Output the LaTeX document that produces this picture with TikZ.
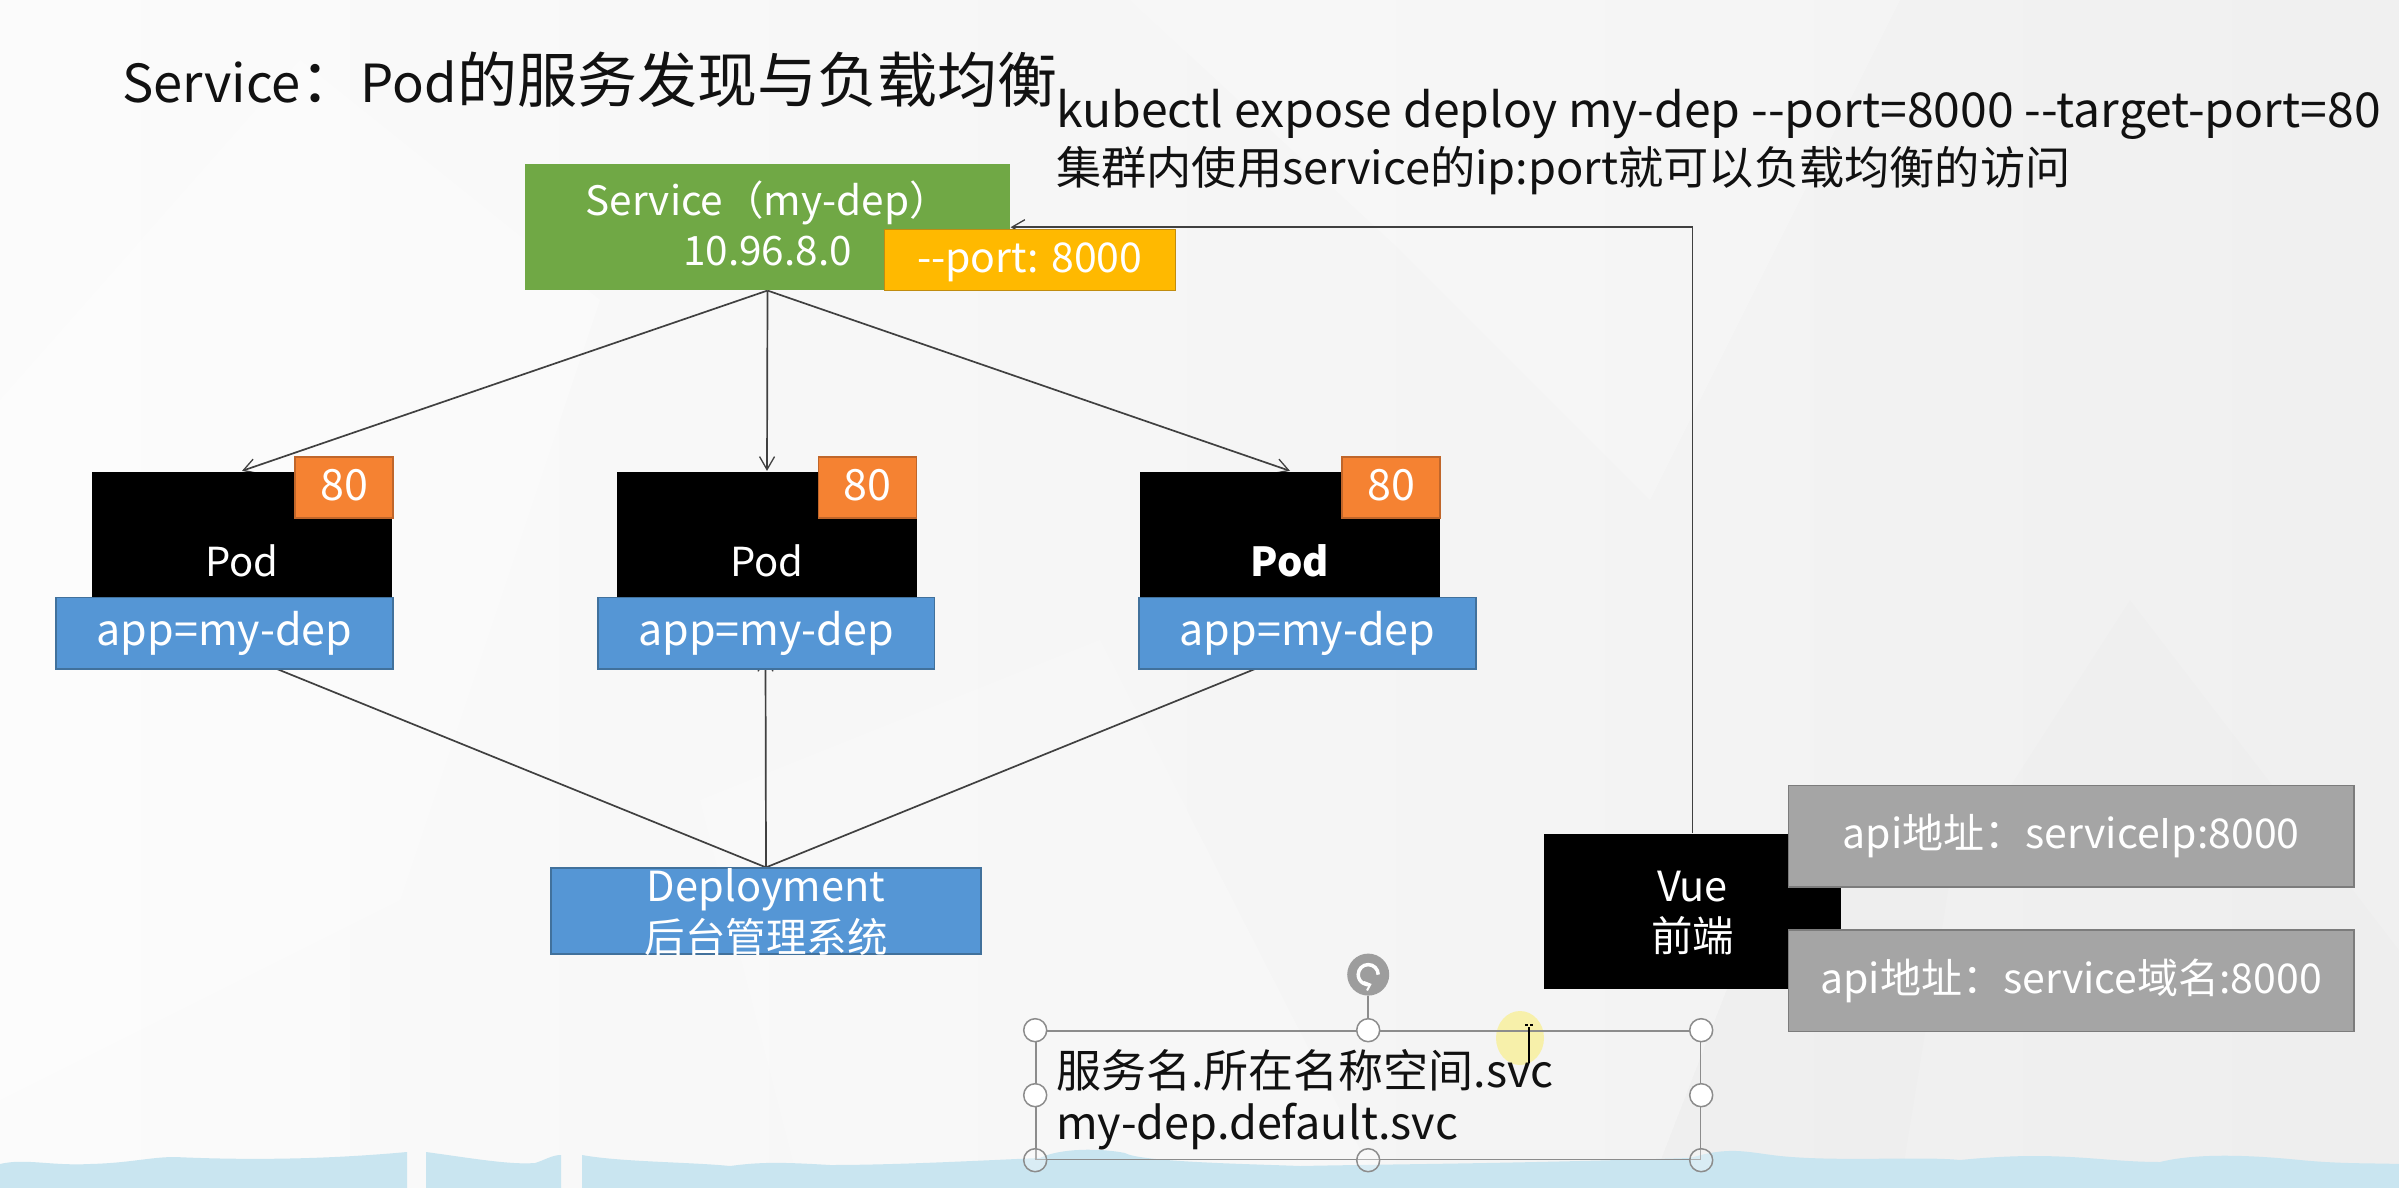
\documentclass[tikz,border=0pt]{standalone}
\usepackage{fontspec}
\setmainfont[Ligatures=TeXOff]{Noto Sans CJK SC}
\usetikzlibrary{arrows.meta,calc}
\pgfdeclarelayer{bg}\pgfdeclarelayer{conn}
\pgfsetlayers{bg,conn,main}
\newcommand{\fs}[1]{\fontsize{#1}{#1}\selectfont}
\newcommand{\st}{\rule[-.2em]{0pt}{1em}}
\definecolor{linec}{HTML}{404040}
\definecolor{bluef}{HTML}{5596D5}
\definecolor{blued}{HTML}{41719C}
\definecolor{hdc}{HTML}{8C8C8C}
\definecolor{ink}{HTML}{111111}
\definecolor{grn}{HTML}{70A845}
\definecolor{org}{HTML}{F58232}
\definecolor{orgd}{HTML}{C0662A}
\definecolor{ylw}{HTML}{FFB900}
\definecolor{ylwd}{HTML}{C08C10}
\definecolor{gry}{HTML}{A5A5A5}
\definecolor{gryd}{HTML}{7C7C7C}
\definecolor{wtr}{HTML}{C9E5F0}
\tikzset{
  x=1pt,y=-1pt,
  box/.style n args={2}{rectangle,minimum width=#1,minimum height=#2,inner sep=0pt,align=center,text=white,line width=1.2pt},
  blue box/.style={fill=bluef,draw=blued},
  conn/.style={draw=linec,line width=1.7pt},
  arr/.style={conn,-{Straight Barb[length=13pt,width=15pt,line width=1.3pt]}},
  hd/.style={circle,minimum size=23pt,inner sep=0pt,fill=white,draw=hdc,line width=1.5pt},
  hdlow/.style={hd,fill=white,fill opacity=.3},
  plain/.style={inner sep=0pt,anchor=base west,text=ink},
  wtext/.style={inner sep=0pt,anchor=base,text=white},
  podtxt/.style={font=\fs{40}},
  lab/.style={font=\fs{43}},
  gtxt/.style={font=\fs{41}}
}
\begin{document}
\begin{tikzpicture}
\useasboundingbox (0,0) rectangle (2399,1188);
\begin{pgfonlayer}{bg}
  \shade[left color=white!98.5!black,right color=white!94!black,shading angle=90] (0,0) rectangle (2399,1188);
  \fill[black,opacity=.006] (1650,1188) -- (1800,800) -- (1950,880) -- (2130,600) -- (2399,950) -- (2399,1188) -- cycle;
  \fill[black,opacity=.006] (1800,800) -- (1950,880) -- (1900,1188) -- (1650,1188) -- cycle;
  \fill[white,opacity=.2] (1130,0) -- (1900,0) -- (1650,500) -- (1400,250) -- cycle;
  \fill[white,opacity=.3] (0,400) -- (300,60) -- (600,300) -- (400,900) -- (0,1100) -- cycle;
  \fill[white,opacity=.2] (700,800) -- (1100,640) -- (1380,1188) -- (800,1188) -- cycle;
  % water
  \fill[wtr] (0,1188) -- (0,1164) .. controls (25,1158) and (50,1166) .. (90,1164) .. controls (130,1163) and (150,1157) .. (175,1157) .. controls (240,1160) and (320,1160) .. (407,1152) -- (407,1188) -- cycle;
  \fill[wtr] (426,1188) -- (426,1152) .. controls (470,1158) and (510,1165) .. (535,1163) .. controls (545,1160) and (552,1155) .. (561,1155) -- (561,1188) -- cycle;
  \fill[wtr] (582,1188) -- (582,1155) .. controls (620,1162) and (690,1162) .. (730,1166) .. controls (760,1162) and (780,1162) .. (830,1165) .. controls (900,1165) and (990,1160) .. (1040,1158) .. controls (1060,1148) and (1100,1148) .. (1125,1153) .. controls (1140,1162) and (1250,1164) .. (1300,1166) .. controls (1400,1164) and (1490,1164) .. (1690,1158) .. controls (1730,1146) and (1745,1152) .. (1780,1156) .. controls (1840,1162) and (1920,1156) .. (1960,1160) .. controls (2060,1150) and (2100,1162) .. (2160,1162) .. controls (2200,1152) and (2260,1156) .. (2300,1160) .. controls (2340,1164) and (2370,1163) .. (2399,1164) -- (2399,1188) -- cycle;
\end{pgfonlayer}

% title and captions
\node[plain] (title) at (122,103) {{\fs{52.5}Service}\fs{60}：{\fs{52.5}Pod}的服务发现与负载均衡};
\node[plain] (cmd) at (1056,128) {\fs{48.1}kubectl expose deploy my-dep --port=8000 --target-port=80};
\node[plain] (note) at (1056,184) {\fs{45.2}集群内使用service的ip:port就可以负载均衡的访问};

% service
\node[box={485pt}{125.5pt},fill=grn,font=\fs{40.5}] (svc) at (767.5,227.2) {\st Service（my-dep）\\[6.5pt]\st 10.96.8.0};
\node[box={291pt}{61pt},fill=ylw,draw=ylwd,font=\fs{41}] (port) at (1029.7,260.3) {\st --port: 8000};

% pods
\node[box={300pt}{126pt},fill=black,podtxt] (pod1) at (242,534.5) {\rule{0pt}{91pt}\rule[-8pt]{0pt}{8pt}Pod};
\node[box={300pt}{126pt},fill=black,podtxt] (pod2) at (767,534.5) {\rule{0pt}{91pt}\rule[-8pt]{0pt}{8pt}Pod};
\node[box={300pt}{126pt},fill=black,podtxt] (pod3) at (1290,534.5) {\rule{0pt}{91pt}\rule[-8pt]{0pt}{8pt}\textbf{Pod}};
\node[box={98pt}{61pt},fill=org,draw=orgd,lab] (p1) at (344,487.5) {\st 80};
\node[box={98pt}{61pt},fill=org,draw=orgd,lab] (p2) at (867.5,487.5) {\st 80};
\node[box={98pt}{61pt},fill=org,draw=orgd,lab] (p3) at (1391,487.5) {\st 80};
\node[box={337pt}{71.5pt},blue box,lab] (app1) at (224.5,633.3) {\st app=my-dep};
\node[box={336.5pt}{71.5pt},blue box,lab] (app2) at (766.2,633.3) {\st app=my-dep};
\node[box={337pt}{71.5pt},blue box,lab] (app3) at (1307.5,633.3) {\st app=my-dep};

% deployment: its two lines are taller than the box, as in the picture
\node[box={430pt}{86pt},blue box] (dep) at (766,911) {};
\node[wtext,font=\fs{41.5}] (dep1) at (dep.center |- 0,901) {Deployment};
\node[wtext,font=\fs{40.5}] (dep2) at (dep.center |- 0,952) {后台管理系统};

% vue
\node[box={297.5pt}{155pt},fill=black,font=\fs{41.5}] (vue) at (1692.5,911.5) {\rule{0pt}{38.4pt}Vue\\[9pt]\st 前端};
\node[box={565.5pt}{101.5pt},fill=gry,draw=gryd,gtxt] (g1) at (2071.2,836.3) {\st api地址：serviceIp:8000};
\node[box={565.5pt}{101.5pt},fill=gry,draw=gryd,gtxt] (g2) at (2071.2,980.8) {\st api地址：service域名:8000};

% selected text box
\node[rectangle,minimum width=664.5pt,minimum height=128.5pt,draw=hdc,line width=1.5pt] (sel) at (1368.2,1095.2) {};
\node[plain] (sel1) at (1056,1087) {\fs{45}服务名.所在名称空间.svc};
\node[plain] (sel2) at (1056,1139) {\fs{45}my-dep.default.svc};
\node[circle,minimum size=42pt,inner sep=0pt,fill=hdc!85!white] (rot) at (sel.north |- 0,974.6) {};
\draw[white,line width=3.5pt,-{Straight Barb[length=5pt,width=9pt,line width=2pt]}] (rot.center) ++(10,0) arc[start angle=0,delta angle=290,radius=10pt];
\draw[hdc,line width=1.5pt] (rot.south) -- (sel.north);
\node[hd] (h1) at (sel.north west) {};
\node[hd] (h2) at (sel.north) {};
\node[hd] (h3) at (sel.north east) {};
\node[hd] (h4) at (sel.west) {};
\node[hd] (h5) at (sel.east) {};
\node[hdlow] (h6) at (sel.south west) {};
\node[hdlow] (h7) at (sel.south) {};
\node[hdlow] (h8) at (sel.south east) {};

% cursor highlight
\begin{pgfonlayer}{conn}
  \fill[yellow!90!orange,opacity=.3] (1520,1038) ellipse [x radius=24pt,y radius=27pt];
\end{pgfonlayer}
\coordinate (cur) at (1529,1045);
\draw[black,line width=1.6pt] ($(cur)+(0,-18)$) -- ($(cur)+(0,18)$);
\draw[black,line width=1.6pt] ($(cur)+(-4,-20)$) -- ($(cur)+(-1,-20)$) ($(cur)+(1,-20)$) -- ($(cur)+(4,-20)$);

% connectors
\coordinate (d1) at (277,669);
\coordinate (d2) at (765.5,657);
\coordinate (d3) at (1255,669);
\begin{pgfonlayer}{conn}
  \draw[arr] (svc.south) -- (pod1.north);
  \draw[arr] (svc.south) -- (pod2.north);
  \draw[arr] (svc.south) -- (pod3.north);
  \draw[conn] (dep.north) -- (d1);
  \draw[arr] (dep.north) -- (d2);
  \draw[conn] (dep.north) -- (d3);
  \draw[arr] (vue.north) |- (svc.east);
\end{pgfonlayer}
\end{tikzpicture}
\end{document}
